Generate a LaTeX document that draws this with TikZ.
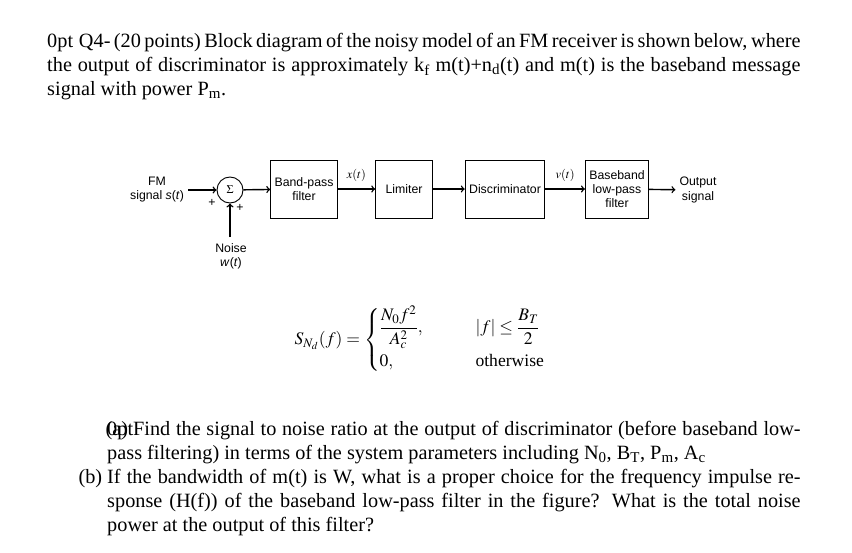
\documentclass[tikz,border=0pt]{standalone}
\usepackage{amsmath}
\usepackage{mathptmx}
\usepackage{fontspec}
\setmainfont{Liberation Serif}
\newfontfamily\diag{Liberation Sans}
\usetikzlibrary{positioning}
\tikzset{
  blk/.style={draw, line width=0.8pt, minimum width=#1, minimum height=1.74cm, align=center, font=\diag\fontsize{10.5}{12}\selectfont},
  blk/.default=1.9cm,
  lbl/.style={align=center, font=\diag\fontsize{10.5}{12}\selectfont},
  sig/.style={->, line width=1.2pt, >=to},
  para/.style={anchor=north west, inner sep=0pt, text width=#1, align=justify, font=\fontsize{17.3}{20.5}\selectfont\hyphenpenalty=10000\exhyphenpenalty=10000},
}
\begin{document}
\begin{tikzpicture}[x=0.03cm, y=-0.03cm]
    \useasboundingbox (0,0) rectangle (852,552);

    % question text
    \node[para=22.6cm] (q) at (47,33) {\hspace*{5pt}Q4- (20 points) Block diagram of the noisy model of an FM receiver is shown below, where the output of discriminator is approximately k\textsubscript{f} m(t)+n\textsubscript{d}(t) and m(t) is the baseband message signal with power P\textsubscript{m}.};

    % block diagram
    \node[lbl] (fm) at (157,190) {FM\\signal \textit{s}(\textit{t})};
    \node[draw, circle, line width=0.8pt, minimum size=0.78cm, inner sep=0pt] (sum) at (230,190) {$\Sigma$};
    \node[blk=1.95cm] (bpf) at (304,189) {Band-pass\\filter};
    \node[blk=1.7cm] (lim) at (404,189) {Limiter};
    \node[blk=2.2cm] (dis) at (505,189) {Discriminator};
    \node[blk=1.8cm] (lpf) at (617,189) {Baseband\\low-pass\\filter};
    \node[lbl] (out) at (698,190) {Output\\signal};
    \node[lbl] (noise) at (231,256) {Noise\\\textit{w}(\textit{t})};
    \coordinate (nz) at (230,237);

    \draw[sig] (fm) -- (sum);
    \draw[sig] (nz) -- (sum);
    \draw[sig] (sum) -- (bpf);
    \draw[sig] (bpf) -- node[above=2pt, lbl] {$x(t)$} (lim);
    \draw[sig] (lim) -- (dis);
    \draw[sig] (dis) -- node[above=2pt, lbl] {$v(t)$} (lpf);
    \draw[sig] (lpf) -- (out);
    \node[lbl] at (212,203) {+};
    \node[lbl] at (240,208) {+};

    % noise spectral density
    \node[font=\fontsize{15}{18}\selectfont] (eq) at (420,340) {$S_{N_d}(f)=\begin{cases}\dfrac{N_0 f^2}{A_c^2}, & \qquad |f|\le\dfrac{B_T}{2}\\[6pt] 0, & \qquad \text{otherwise}\end{cases}$};

    % parts
    \node[para=20.8cm] (pa) at (107,421) {\llap{(a)\ }Find the signal to noise ratio at the output of discriminator (before baseband low-pass filtering) in terms of the system parameters including N\textsubscript{0}, B\textsubscript{T}, P\textsubscript{m}, A\textsubscript{c}\\
    \llap{(b)\ }If the bandwidth of m(t) is W, what is a proper choice for the frequency impulse response (H(f)) of the baseband low-pass filter in the figure? What is the total noise power at the output of this filter?};
\end{tikzpicture}
\end{document}
